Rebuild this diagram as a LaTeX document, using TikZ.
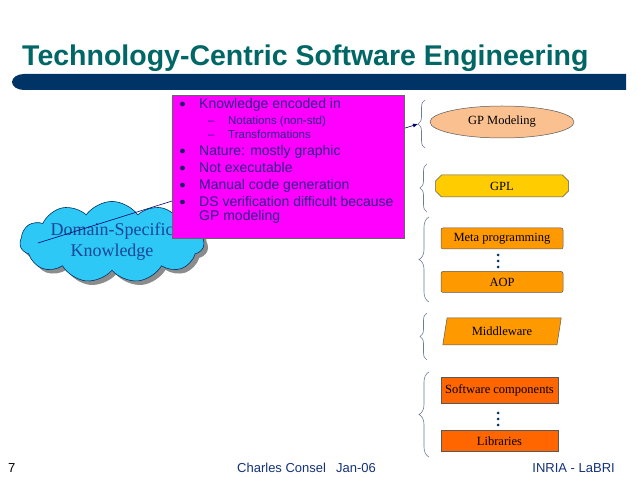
\documentclass[tikz,border=0pt]{standalone}
\usepackage{fontspec}
\setmainfont{Liberation Serif}
\newfontfamily\arial{Liberation Sans}
\usepackage{xcolor}
\usepackage{tikz}
\usetikzlibrary{arrows.meta,positioning,shapes.geometric,shapes.misc,shapes.symbols,shadows,decorations.pathreplacing}

\definecolor{titleteal}{RGB}{0,102,102}
\definecolor{barnavy}{RGB}{0,51,102}
\definecolor{boxmagenta}{RGB}{255,0,255}
\definecolor{boxtext}{RGB}{45,30,135}
\definecolor{bulnavy}{RGB}{30,30,100}
\definecolor{cloudcyan}{RGB}{45,200,245}
\definecolor{cloudtext}{RGB}{25,70,150}
\definecolor{peach}{RGB}{250,192,144}
\definecolor{gold}{RGB}{255,204,0}
\definecolor{amber}{RGB}{255,153,0}
\definecolor{tangerine}{RGB}{255,102,0}
\definecolor{bracegray}{RGB}{110,125,150}
\definecolor{footblue}{RGB}{20,50,120}

\newcommand{\submark}{\makebox[20pt][l]{–}}

\begin{document}
\begin{tikzpicture}[
  x=1pt,y=-1pt,
  node distance=22pt,
  tool/.style={draw=black!65,line width=0.5pt,font=\fontsize{12.5}{14}\selectfont,inner sep=0pt,text=black},
  lang/.style={tool,rectangle,rounded corners=2pt,fill=amber,minimum width=122pt,minimum height=21pt},
  comp/.style={tool,rectangle,fill=tangerine,minimum width=117pt,minimum height=21pt},
  brc/.style={draw=bracegray,line width=0.6pt,decorate,decoration={brace,amplitude=#1}},
  bul/.style={anchor=base west,font=\arial\fontsize{14}{16}\selectfont,text=boxtext,inner sep=0pt},
  sub/.style={bul,font=\arial\fontsize{11.5}{13}\selectfont},
  foot/.style={font=\arial\fontsize{13}{15}\selectfont,inner sep=0pt},
  link/.style={-{Latex[length=5pt,width=4pt]},draw=black!55!blue,line width=0.6pt}
]
\useasboundingbox (0,0) rectangle (638,478);
\fill[white] (0,0) rectangle (638,478);

% title and bar
\node[anchor=base west,inner sep=0pt,font=\arial\bfseries\fontsize{28.5}{30}\selectfont,text=titleteal] (title) at (22,66) {Technology-Centric Software Engineering};
\fill[barnavy] (626,74) -- (24,74) arc[start angle=270,end angle=90,x radius=12,y radius=8] -- (626,90) -- cycle;

% technology column
\node[ellipse,tool,fill=peach,minimum width=144pt,minimum height=32pt] (gpm) at (502,122) {GP Modeling};
\node[chamfered rectangle,tool,fill=gold,minimum width=133pt,minimum height=22pt,chamfered rectangle xsep=3pt,chamfered rectangle ysep=3pt] (gpl) at (502,186) {GPL};
\node[lang] (meta) at (502,238.5) {Meta programming};
\node[lang,below=of meta] (aop) {AOP};
\node[trapezium,tool,fill=amber,trapezium left angle=75,trapezium right angle=105,trapezium stretches=true,minimum width=119pt,minimum height=27pt] (mid) at (502,331.5) {Middleware};
\node[comp,minimum height=26pt] (swc) at (499.5,390) {Software components};
\node[comp,below=27pt of swc] (lib) {Libraries};

\foreach \y in {255,261,267} \fill[barnavy] (498,\y) circle (1.5);
\foreach \y in {413,419,425} \fill[barnavy] (498,\y) circle (1.5);

% braces
\draw[brc=7pt] (425,148) -- (425,100);
\draw[brc=7pt] (427,212) -- (427,164);
\draw[brc=10pt] (429,302) -- (429,217);
\draw[brc=7pt] (427,360) -- (427,313);
\draw[brc=10pt] (429,457) -- (429,372);
\coordinate (gpb) at (418,124);

% domain knowledge
\node[cloud,cloud puffs=11,cloud puff arc=110,aspect=3,draw=barnavy,line width=0.6pt,fill=cloudcyan,minimum width=184pt,minimum height=62pt,drop shadow={shadow xshift=4pt,shadow yshift=-4pt,fill=black!45,opacity=1},align=center,font=\fontsize{18}{21}\selectfont,text=cloudtext,inner sep=0pt] (dsk) at (112,242) {Domain-Specific\\Knowledge};
\coordinate (dskin) at (38,243);
\draw[link] (dskin) -- (gpb);

% notes box
\node[draw=black!60,fill=boxmagenta,line width=0.6pt,minimum width=232pt,minimum height=143pt,inner sep=0pt,anchor=north west] (info) at (172,95) {};
\foreach \y in {104,151,168,185,202} \fill[bulnavy] (182.5,\y) circle (2.4);
\node[bul] (k1) at (199,109) {Knowledge encoded in};
\node[sub] (k2) at (208,125) {\submark Notations (non-std)};
\node[sub] (k3) at (208,139) {\submark Transformations};
\node[bul] (k4) at (199,156) {Nature: mostly graphic};
\node[bul] (k5) at (199,173) {Not executable};
\node[bul] (k6) at (199,190) {Manual code generation};
\node[bul] (k7) at (199,207) {DS verification difficult because};
\node[bul] (k8) at (199,221) {GP modeling};

% footer
\node[foot,anchor=base west] (pgno) at (8,473) {7};
\node[foot,anchor=base west,text=footblue] (auth) at (237,473) {Charles Consel\hspace{10pt}Jan-06};
\node[foot,anchor=base east,text=footblue] (inst) at (615,473) {INRIA - LaBRI};

\end{tikzpicture}
\end{document}
